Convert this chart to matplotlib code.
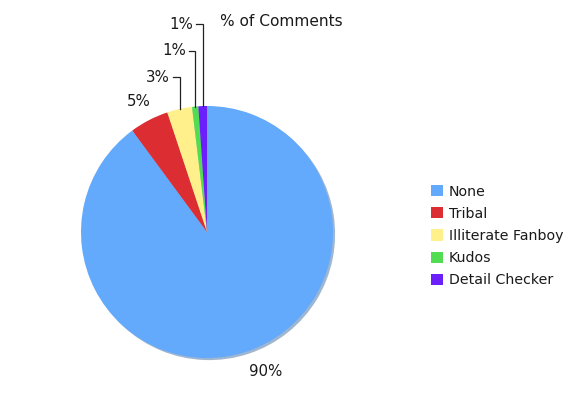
import numpy as np
import matplotlib
matplotlib.use("Agg")
import matplotlib.pyplot as plt
from matplotlib.patches import Patch

categories = ["None", "Tribal", "Illiterate Fanboy", "Kudos", "Detail Checker"]
values = [89.9, 5.0, 3.2, 0.8, 1.1]
labels_text = ["90%", "5%", "3%", "1%", "1%"]
colors = ["#63a9fc", "#dc2d33", "#fff08c", "#52dc52", "#6a1ffc"]
title = "% of Comments"

W, H, DPI = 571, 407, 100
fig = plt.figure(figsize=(W / DPI, H / DPI), dpi=DPI)
ax = fig.add_axes([0, 0, 1, 1])

R_PX = 126.0
CX, CY = 207.0, H - 232.0

wedges, _ = ax.pie(values, colors=colors, startangle=90, counterclock=False,
                   radius=1.0, wedgeprops=dict(linewidth=0),
                   shadow=dict(ox=0.012, oy=-0.012, shade=0.35))
ax.set_aspect("auto")
ax.set_xlim(-CX / R_PX, (W - CX) / R_PX)
ax.set_ylim(-CY / R_PX, (H - CY) / R_PX)
ax.axis("off")

fs_lab = 10.8
txt_color = "#1a1a1a"
# Label placement: big slices with plain labels, small ones with leader lines
leader_heights = {2: 1.23, 3: 1.44, 4: 1.65}
angle_shift = {0: 4.6, 1: 0.0}
label_dist = {0: 1.2, 1: 1.17}
for i, w in enumerate(wedges):
    ang = np.deg2rad((w.theta1 + w.theta2) / 2.0)
    x, y = np.cos(ang), np.sin(ang)
    if i in leader_heights:
        yl = leader_heights[i]
        ax.plot([x, x, x - 0.05], [y, yl, yl], color="#222222", lw=0.9,
                solid_joinstyle="miter")
        ax.text(x - 0.075, yl, labels_text[i], ha="right", va="center",
                fontsize=fs_lab, color=txt_color)
    else:
        a2 = ang + np.deg2rad(angle_shift[i])
        d = label_dist[i]
        ax.text(d * np.cos(a2), d * np.sin(a2), labels_text[i],
                ha="center", va="center", fontsize=fs_lab, color=txt_color)

fig.text(220 / W, 1 - 22 / H, title, ha="left", va="center",
         fontsize=11.1, color=txt_color)

handles = [Patch(facecolor=c, edgecolor="none") for c in colors]
fig.legend(handles, categories, loc="upper left",
           bbox_to_anchor=(431 / W, 1 - 184.5 / H), frameon=False,
           fontsize=10.2, handlelength=0.85, handleheight=0.85,
           handletextpad=0.4, labelspacing=0.58, borderpad=0,
           borderaxespad=0, labelcolor=txt_color)

fig.savefig("out.png", dpi=DPI)
